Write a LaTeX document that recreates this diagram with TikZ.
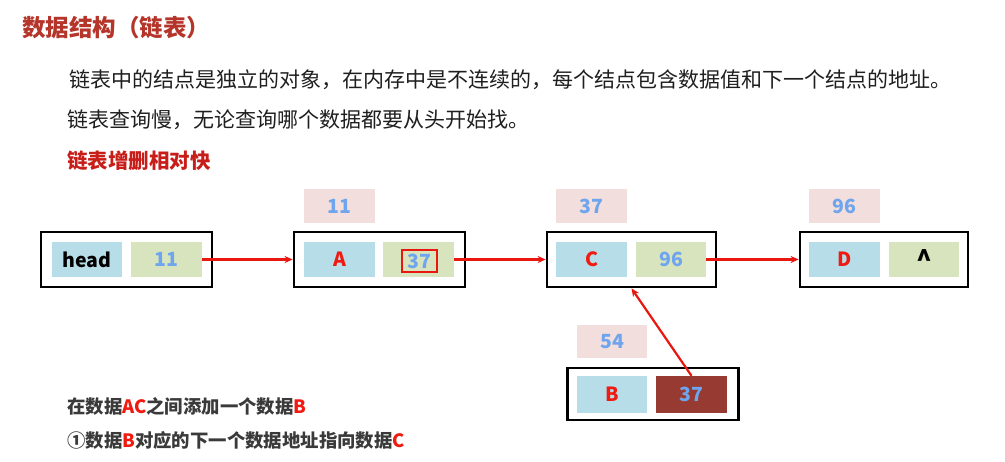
\documentclass[tikz,border=0pt]{standalone}
\usepackage{fontspec}
\setmainfont{Noto Sans CJK SC}
\usetikzlibrary{arrows.meta}
\definecolor{titlered}{HTML}{B5352A}
\definecolor{boldred}{HTML}{C81E1A}
\definecolor{lblue}{HTML}{B7DDE8}
\definecolor{lgreen}{HTML}{D7E4BD}
\definecolor{lpink}{HTML}{F2DEDC}
\definecolor{dred}{HTML}{963A32}
\definecolor{numblue}{HTML}{6FA5EE}
\definecolor{txtred}{HTML}{F01A10}
\definecolor{arrred}{HTML}{E8170F}
\definecolor{darkgray}{HTML}{3A3A3A}
\tikzset{
  outerbox/.style={draw=black, line width=2.8pt, minimum width=171pt, minimum height=55pt, inner sep=0pt},
  cell/.style={minimum width=71pt, minimum height=35pt, inner sep=0pt, font=\fontsize{19.5}{19.5}\selectfont\bfseries},
  valcell/.style={cell, fill=lblue, text=txtred},
  ptrcell/.style={cell, fill=lgreen, text=numblue},
  addrcell/.style={cell, fill=lpink, text=numblue, minimum height=34pt},
  link/.style={draw=arrred, line width=2.2pt, -{Stealth[length=8pt,width=7pt]}},
  txt/.style={anchor=west, inner sep=0pt}
}
\begin{document}
\begin{tikzpicture}[x=1pt,y=-1pt]
\useasboundingbox[fill=white] (0,0) rectangle (1005,462);
% texts
\node[txt, text=titlered, font=\fontsize{23.5}{23.5}\selectfont\bfseries] (title) at (22,28) {数据结构（链表）};
\node[txt, text=black!88, font=\fontsize{21}{21}\selectfont] (l1) at (69,80) {链表中的结点是独立的对象，在内存中是不连续的，每个结点包含数据值和下一个结点的地址。};
\node[txt, text=black!88, font=\fontsize{21}{21}\selectfont] (l2) at (67,120) {链表查询慢，无论查询哪个数据都要从头开始找。};
\node[txt, text=boldred, font=\fontsize{20.5}{20.5}\selectfont\bfseries] (l3) at (67,161) {链表增删相对快};
\node[txt, text=darkgray, font=\fontsize{18.4}{18.4}\selectfont\bfseries] (b1) at (67,406) {在数据\textcolor{txtred}{AC}之间添加一个数据\textcolor{txtred}{B}};
\node[txt, text=darkgray, font=\fontsize{18.4}{18.4}\selectfont\bfseries] (b2) at (67,440) {①数据\textcolor{txtred}{B}对应的下一个数据地址指向数据\textcolor{txtred}{C}};
% head
\node[outerbox] (H) at (126.5,259.5) {};
\node[cell, fill=lblue, text=black, minimum width=70pt] (Hv) at (87,259.5) {head};
\node[ptrcell] (Hp) at (166.5,259.5) {11};
% A
\node[addrcell] (Aa) at (339.5,206) {11};
\node[outerbox] (A) at (379.5,259.5) {};
\node[valcell] (Av) at (339.5,259.5) {A};
\node[ptrcell] (Ap) at (418.5,259.5) {};
\node[draw=arrred, line width=2.2pt, minimum width=35pt, minimum height=22pt, inner sep=0pt, text=numblue, font=\fontsize{19.5}{19.5}\selectfont\bfseries] (Ar) at (419.5,261) {37};
% C
\node[addrcell] (Ca) at (591.5,206) {37};
\node[outerbox, minimum width=169pt] (C) at (631.5,259.5) {};
\node[valcell] (Cv) at (591.5,259.5) {C};
\node[ptrcell, minimum width=70pt] (Cp) at (671,259.5) {96};
% D
\node[addrcell] (Da) at (844.5,206) {96};
\node[outerbox, minimum width=168pt] (D) at (884,259.5) {};
\node[valcell] (Dv) at (844.5,259.5) {D};
\node[ptrcell, minimum width=70pt, text=black, font=\fontsize{26}{26}\selectfont\bfseries] (Dp) at (924,259.5) {\raisebox{-5pt}{\textasciicircum}};
% B
\node[addrcell, minimum width=70pt, minimum height=33pt] (Ba) at (612,341.5) {54};
\node[outerbox, minimum height=52pt] (B) at (653,394) {};
\node[valcell, minimum width=70pt, minimum height=37pt] (Bv) at (612,394.5) {B};
\node[ptrcell, fill=dred, minimum height=37pt] (Bp) at (691.5,394.5) {37};
% links
\draw[link] (Hp.east) -- (A.west);
\draw[link] (Ap.east) -- (C.west);
\draw[link] (Cp.east) -- (D.west);
\draw[link] (Bp.north) -- (C.south);
\end{tikzpicture}
\end{document}
